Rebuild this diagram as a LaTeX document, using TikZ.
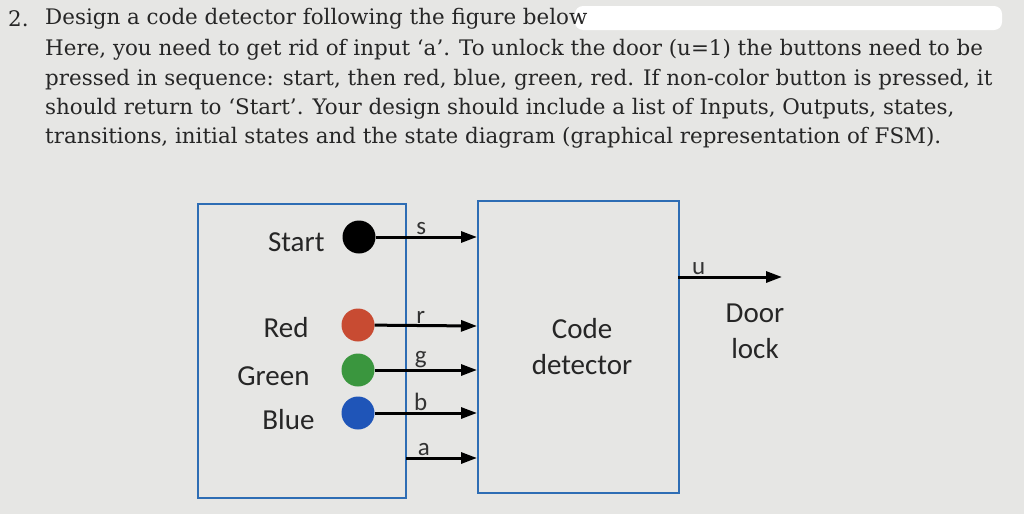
\documentclass[tikz,border=0pt]{standalone}
\usepackage{fontspec}
\setmainfont{DejaVu Serif}
\setsansfont{Carlito}
\usetikzlibrary{arrows.meta}
\definecolor{bg}{HTML}{E6E6E4}
\definecolor{bx}{HTML}{2E6DB4}
\definecolor{rd}{HTML}{C84B32}
\definecolor{gn}{HTML}{3A963E}
\definecolor{bl}{HTML}{1F55B8}
\tikzset{
 line/.style={font=\fontsize{21.4}{24}\selectfont, anchor=west, inner sep=0pt, text=black!85},
 box/.style={draw=bx, line width=2pt},
 dot/.style={circle, minimum size=33pt, inner sep=0pt},
 sig/.style={line width=3pt, -{Triangle[length=16pt,width=11pt]}},
 lab/.style={font=\sffamily\fontsize{29}{36}\selectfont, text=black!85},
 sl/.style={font=\sffamily\fontsize{25}{26}\selectfont, text=black!80, inner sep=1pt}
}
\begin{document}
\begin{tikzpicture}[x=1pt,y=-1pt]
\fill[bg] (0,0) rectangle (1024,514);
\useasboundingbox (0,0) rectangle (1024,514);
\fill[white, rounded corners=8pt] (575,6) rectangle (1002,30);
\node[line] (n2) at (8,19) {2.};
\node[line] (l1) at (45,19) {Design a code detector following the figure below};
\node[line] (l2) at (45,50) {Here, you need to get rid of input ‘a’. To unlock the door (u=1) the buttons need to be};
\node[line] (l3) at (45,80) {pressed in sequence: start, then red, blue, green, red. If non-color button is pressed, it};
\node[line] (l4) at (45,109) {should return to ‘Start’. Your design should include a list of Inputs, Outputs, states,};
\node[line] (l5) at (45,138) {transitions, initial states and the state diagram (graphical representation of FSM).};
\node[box, minimum width=208pt, minimum height=294pt, inner sep=0pt, anchor=north west] (L) at (197,203) {};
\node[box, minimum width=201pt, minimum height=292pt, inner sep=0pt, anchor=north west] (R) at (477,200) {};
\node[lab, align=center] (tc) at (582,347) {Code\\detector};
\node[lab, anchor=east] (ts) at (328,242) {Start};
\node[lab, anchor=east] (tr) at (312,328) {Red};
\node[lab, anchor=east] (tg) at (313,376) {Green};
\node[lab, anchor=east] (tb) at (318,420) {Blue};
\node[dot, fill=black] (ds) at (359,237) {};
\node[dot, fill=rd] (dr) at (358,325) {};
\node[dot, fill=gn] (dg) at (358,370) {};
\node[dot, fill=bl] (db) at (358,413) {};
\coordinate (es) at (477,237); \coordinate (er) at (477,326);
\coordinate (eg) at (477,370); \coordinate (eb) at (477,413);
\coordinate (sa) at (406,458); \coordinate (ea) at (477,458);
\draw[sig] (ds) -- (es) node[sl, pos=0.45, above] {s};
\draw[sig] (dr) -- (er) node[sl, pos=0.45, above] {r};
\draw[sig] (dg) -- (eg) node[sl, pos=0.45, above] {g};
\draw[sig] (db) -- (eb) node[sl, pos=0.45, above] {b};
\draw[sig] (sa) -- (ea) node[sl, pos=0.25, above] {a};
\coordinate (uo) at (678,277); \coordinate (ue) at (782,277);
\draw[sig] (uo) -- (ue) node[sl, pos=0.2, above] {u};
\node[lab, align=center] (dl) at (755,331) {Door\\lock};
\end{tikzpicture}
\end{document}
